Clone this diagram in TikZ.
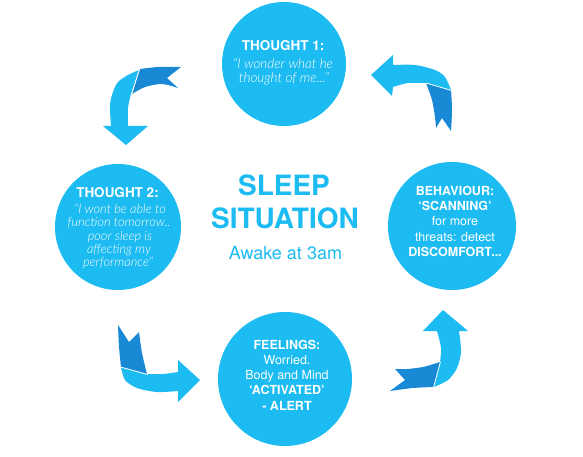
\documentclass[tikz,border=0pt]{standalone}
\usepackage{fontspec}
\setmainfont{TeX Gyre Heros}
\IfFontExistsTF{Lato Light Italic}{\newfontfamily\hand{Lato Light Italic}}{\newfontfamily\hand{Lato}[UprightFont=*-Italic]}
\definecolor{skyb}{RGB}{28,187,242}
\definecolor{deepb}{RGB}{25,137,214}
\tikzset{
  bub/.style={circle, fill=skyb, inner sep=0pt},
  hd/.style={anchor=base, text=white, font=\fontsize{13.5}{15}\bfseries\selectfont, inner sep=0pt},
  bd/.style={anchor=base, text=white, font=\fontsize{12.5}{15}\selectfont, inner sep=0pt},
  bdb/.style={anchor=base, text=white, font=\fontsize{12.5}{15}\bfseries\selectfont, inner sep=0pt},
  hw/.style={anchor=base, text=white, font=\fontsize{13.5}{14}\hand, inner sep=0pt},
  hws/.style={anchor=base, text=white, font=\fontsize{12.8}{14}\hand, inner sep=0pt},
  ttl/.style={anchor=base, text=skyb, font=\fontsize{28}{30}\bfseries\selectfont, inner sep=0pt},
  sub/.style={anchor=base, text=skyb, font=\fontsize{18}{20}\selectfont, inner sep=0pt},
  lite/.style={fill=skyb},
  dark/.style={fill=deepb},
  cut/.style={draw=white, line width=0.8pt}
}
\begin{document}
\begin{tikzpicture}[x=1pt,y=-1pt]
\useasboundingbox (0,0) rectangle (583,457);
\fill[white] (0,0) rectangle (583,457);

% circles
\node[bub, minimum size=124pt] (t1) at (284,64) {};
\node[bub, minimum size=126pt] (t2) at (118,227) {};
\node[bub, minimum size=128pt] (bh) at (452,226) {};
\node[bub, minimum size=134pt] (fe) at (285,379) {};

% centre title
\node[ttl] (s1) at (284,196) {SLEEP};
\node[ttl] (s2) at (285,228) {SITUATION};
\node[sub] (s3) at (285.5,259) {Awake at 3am};

% thought 1
\node[hd] (t1h) at (283,51) {THOUGHT 1:};
\node[hw] (t1a) at (283,69) {“I wonder what he};
\node[hw] (t1b) at (284,83) {thought of me...”};

% thought 2
\node[hd] (t2h) at (117.5,197) {THOUGHT 2:};
\node[hws] (t2a) at (120,213) {“I wont be able to};
\node[hws] (t2b) at (119,226.5) {function tomorrow..};
\node[hws] (t2c) at (120,240) {poor sleep is};
\node[hws] (t2d) at (119,253) {affecting my};
\node[hws] (t2e) at (118,266.5) {performance”};

% behaviour
\node[bdb] (b1) at (455,195) {BEHAVIOUR:};
\node[bdb] (b2) at (455,210) {‘SCANNING’};
\node[bd]  (b3) at (455,225.5) {for more};
\node[bd]  (b4) at (455,241) {threats: detect};
\node[bdb] (b5) at (455,256) {DISCOMFORT...};

% feelings
\node[bdb] (f1) at (287,349.5) {FEELINGS:};
\node[bd]  (f2) at (287,364) {Worried.};
\node[bd]  (f3) at (287,379) {Body and Mind};
\node[bdb] (f4) at (287,394.5) {‘ACTIVATED’};
\node[bdb] (f5) at (287,410) {- ALERT};

% arrow top-left
\path[dark] (140,69) -- plot[smooth] coordinates {(140,69) (158,67) (181,67)} -- (167,78) -- (178,88)
  -- plot[smooth] coordinates {(178,88) (162,84) (145,87) (132,94)} -- cycle;
\path[lite] (103,126) -- (111,126) -- plot[smooth] coordinates {(111,126) (110,105) (113,92) (118,82) (128,75) (139,70)}
  -- (131,94) -- plot[smooth] coordinates {(131,94) (128,108) (128,126)} -- (148,126) -- (126,145) -- cycle;
\draw[cut] (139.5,69) -- (131.5,94.5);

% arrow top-right
\path[dark] (426,83) -- (451,90) -- plot[smooth] coordinates {(451,90) (452,110) (451,131)} -- (442,118) -- (436,128)
  -- plot[smooth] coordinates {(436,128) (435,117) (432,100) (426,83)} -- cycle;
\path[lite] (371,75) -- (393,55) -- (393,65) -- plot[smooth] coordinates {(393,65) (415,65) (435,70) (445,77) (451,90)}
  -- (426,83) -- plot[smooth] coordinates {(426,83) (408,83) (393,87)} -- (392,96) -- cycle;
\draw[cut] (426,83) -- (451.5,90.5);

% arrow bottom-right
\path[dark] (440,362) -- plot[smooth] coordinates {(440,362) (423,367) (407,369) (395,369)} -- (405,380) -- (390,391)
  -- plot[smooth] coordinates {(390,391) (413,388) (434,387)} -- cycle;
\path[lite] (443,310) -- (468,331) -- (459,331) -- plot[smooth] coordinates {(459,331) (461,352) (457,368) (448,380) (434,387)}
  -- (440,362) -- plot[smooth] coordinates {(440,362) (441,348) (437,331)} -- (423,331) -- cycle;
\draw[cut] (440.5,361.5) -- (433.5,387.5);

% arrow bottom-left
\path[dark] (118,325) -- (129,342) -- (139,332) -- plot[smooth] coordinates {(139,332) (142,353) (147,374)} -- (121,367)
  -- plot[smooth] coordinates {(121,367) (119,347) (118,325)} -- cycle;
\path[lite] (121,367) -- (147,374) -- plot[smooth] coordinates {(147,374) (163,374) (178,372)} -- (178,360) -- (200,380)
  -- (178,402) -- (178,391) -- plot[smooth] coordinates {(178,391) (157,392) (137,388) (125,380) (121,367)} -- cycle;
\draw[cut] (120.5,367) -- (147.5,374.5);
\end{tikzpicture}
\end{document}
